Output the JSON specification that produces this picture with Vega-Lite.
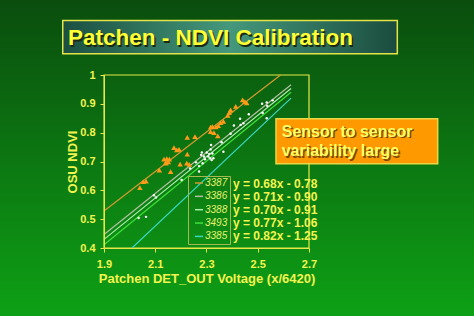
{
  "$schema": "https://vega.github.io/schema/vega-lite/v6.json",
  "width": 205,
  "height": 173,
  "autosize": "none",
  "padding": {"left": 104, "top": 75, "right": 165, "bottom": 68},
  "background": "#0b7a12",
  "config": {
    "font": "Liberation Sans",
    "view": {"stroke": null},
    "axis": {
      "grid": false,
      "labelOverlap": false,
      "labelFlush": false,
      "domainColor": "#e8e84a",
      "tickColor": "#e8e84a",
      "tickSize": 4,
      "labelColor": "#f4f450",
      "labelFont": "Liberation Sans",
      "labelFontWeight": "bold",
      "labelFontSize": 11,
      "titleColor": "#f4f450",
      "titleFont": "Liberation Sans",
      "titleFontWeight": "bold",
      "titleFontSize": 13
    },
    "axisY": {"labelOverlap": false, "tickCount": 7}
  },
  "datasets": {
    "pts": [
      {"x": 2.040, "y": 0.609, "s": "3387"}, {"x": 2.053, "y": 0.630, "s": "3387"}, {"x": 2.064, "y": 0.632, "s": "3387"},
      {"x": 2.116, "y": 0.670, "s": "3387"}, {"x": 2.134, "y": 0.708, "s": "3387"}, {"x": 2.141, "y": 0.697, "s": "3387"},
      {"x": 2.145, "y": 0.710, "s": "3387"}, {"x": 2.151, "y": 0.699, "s": "3387"}, {"x": 2.155, "y": 0.708, "s": "3387"},
      {"x": 2.142, "y": 0.694, "s": "3387"}, {"x": 2.160, "y": 0.665, "s": "3387"}, {"x": 2.173, "y": 0.748, "s": "3387"},
      {"x": 2.184, "y": 0.740, "s": "3387"}, {"x": 2.193, "y": 0.742, "s": "3387"}, {"x": 2.197, "y": 0.691, "s": "3387"},
      {"x": 2.223, "y": 0.694, "s": "3387"}, {"x": 2.225, "y": 0.784, "s": "3387"}, {"x": 2.225, "y": 0.726, "s": "3387"},
      {"x": 2.233, "y": 0.690, "s": "3387"}, {"x": 2.255, "y": 0.786, "s": "3387"}, {"x": 2.316, "y": 0.819, "s": "3387"},
      {"x": 2.323, "y": 0.821, "s": "3387"}, {"x": 2.329, "y": 0.800, "s": "3387"}, {"x": 2.316, "y": 0.804, "s": "3387"},
      {"x": 2.344, "y": 0.789, "s": "3387"}, {"x": 2.337, "y": 0.820, "s": "3387"}, {"x": 2.346, "y": 0.824, "s": "3387"},
      {"x": 2.355, "y": 0.835, "s": "3387"}, {"x": 2.366, "y": 0.839, "s": "3387"}, {"x": 2.383, "y": 0.860, "s": "3387"},
      {"x": 2.389, "y": 0.870, "s": "3387"}, {"x": 2.394, "y": 0.879, "s": "3387"}, {"x": 2.414, "y": 0.891, "s": "3387"},
      {"x": 2.441, "y": 0.914, "s": "3387"}, {"x": 2.450, "y": 0.908, "s": "3387"}, {"x": 2.457, "y": 0.903, "s": "3387"},
      {"x": 2.035, "y": 0.504, "s": "other"}, {"x": 2.064, "y": 0.508, "s": "other"}, {"x": 2.095, "y": 0.583, "s": "other"},
      {"x": 2.103, "y": 0.575, "s": "other"}, {"x": 2.203, "y": 0.636, "s": "other"}, {"x": 2.236, "y": 0.676, "s": "other"},
      {"x": 2.259, "y": 0.697, "s": "other"}, {"x": 2.271, "y": 0.684, "s": "other"}, {"x": 2.271, "y": 0.665, "s": "other"},
      {"x": 2.279, "y": 0.723, "s": "other"}, {"x": 2.282, "y": 0.731, "s": "other"}, {"x": 2.285, "y": 0.694, "s": "other"},
      {"x": 2.290, "y": 0.717, "s": "other"}, {"x": 2.294, "y": 0.708, "s": "other"}, {"x": 2.301, "y": 0.731, "s": "other"},
      {"x": 2.307, "y": 0.717, "s": "other"}, {"x": 2.311, "y": 0.726, "s": "other"}, {"x": 2.314, "y": 0.711, "s": "other"},
      {"x": 2.316, "y": 0.742, "s": "other"}, {"x": 2.318, "y": 0.757, "s": "other"}, {"x": 2.320, "y": 0.705, "s": "other"},
      {"x": 2.323, "y": 0.728, "s": "other"}, {"x": 2.327, "y": 0.711, "s": "other"}, {"x": 2.359, "y": 0.767, "s": "other"},
      {"x": 2.366, "y": 0.734, "s": "other"}, {"x": 2.394, "y": 0.796, "s": "other"}, {"x": 2.407, "y": 0.825, "s": "other"},
      {"x": 2.431, "y": 0.848, "s": "other"}, {"x": 2.433, "y": 0.827, "s": "other"}, {"x": 2.444, "y": 0.833, "s": "other"},
      {"x": 2.465, "y": 0.864, "s": "other"}, {"x": 2.517, "y": 0.900, "s": "other"}, {"x": 2.519, "y": 0.868, "s": "other"},
      {"x": 2.535, "y": 0.905, "s": "other"}, {"x": 2.537, "y": 0.893, "s": "other"}, {"x": 2.558, "y": 0.912, "s": "other"},
      {"x": 2.535, "y": 0.850, "s": "other"}
    ],
    "lines": [
      {"sensor": "3387", "x": 1.9, "y": 0.528}, {"sensor": "3387", "x": 2.589, "y": 1.0},
      {"sensor": "3386", "x": 1.9, "y": 0.447}, {"sensor": "3386", "x": 2.63, "y": 0.966},
      {"sensor": "3388", "x": 1.9, "y": 0.430}, {"sensor": "3388", "x": 2.63, "y": 0.953},
      {"sensor": "3493", "x": 1.9, "y": 0.411}, {"sensor": "3493", "x": 2.63, "y": 0.940},
      {"sensor": "3385", "x": 2.009, "y": 0.4}, {"sensor": "3385", "x": 2.63, "y": 0.920}
    ],
    "eqs": [
      {"sensor": "3387", "eq": "y = 0.68x - 0.78"},
      {"sensor": "3386", "eq": "y = 0.71x - 0.90"},
      {"sensor": "3388", "eq": "y = 0.70x - 0.91"},
      {"sensor": "3493", "eq": "y = 0.77x - 1.06"},
      {"sensor": "3385", "eq": "y = 0.82x - 1.25"}
    ]
  },
  "layer": [
    {
      "data": {"values": [{}]},
      "mark": {"type": "rect", "clip": false, "color": {"gradient": "linear", "x1": 0, "y1": 0, "x2": 0, "y2": 1, "stops": [{"offset": 0, "color": "#0a4a0d"}, {"offset": 1, "color": "#0ea516"}]}},
      "encoding": {
        "x": {"datum": 1.45, "type": "quantitative", "scale": {"domain": [1.9, 2.7], "nice": false, "zero": false}},
        "x2": {"datum": 3.4},
        "y": {"datum": 1.3, "type": "quantitative", "scale": {"domain": [0.4, 1.0], "nice": false, "zero": false}},
        "y2": {"datum": 0.1}
      }
    },
    {
      "data": {"values": [{}]},
      "mark": {"type": "rect", "clip": false, "filled": false, "stroke": "#e8e84a", "strokeWidth": 1.2},
      "encoding": {"x": {"datum": 1.9, "type": "quantitative"}, "x2": {"datum": 2.7}, "y": {"datum": 0.4, "type": "quantitative"}, "y2": {"datum": 1.0}}
    },
    {
      "data": {"values": [{}]},
      "mark": {"type": "rect", "clip": false, "stroke": "#e4e44a", "strokeWidth": 1.5,
               "fill": {"gradient": "linear", "x1": 0, "y1": 0, "x2": 1, "y2": 0, "stops": [{"offset": 0, "color": "#1b5040"}, {"offset": 0.5, "color": "#45987c"}, {"offset": 1, "color": "#1a4c3e"}]}},
      "encoding": {"x": {"datum": 1.739, "type": "quantitative"}, "x2": {"datum": 3.0446}, "y": {"datum": 1.189, "type": "quantitative"}, "y2": {"datum": 1.0739}}
    },
    {
      "data": {"values": [{}]},
      "mark": {"type": "text", "clip": false, "text": "Patchen - NDVI Calibration", "align": "left", "baseline": "alphabetic", "font": "Liberation Sans", "fontWeight": "bold", "fontSize": 22.5, "fill": "#1a2a12", "dx": 1.5, "dy": 1.5},
      "encoding": {"x": {"datum": 1.7595, "type": "quantitative"}, "y": {"datum": 1.1027, "type": "quantitative"}}
    },
    {
      "data": {"values": [{}]},
      "mark": {"type": "text", "clip": false, "text": "Patchen - NDVI Calibration", "align": "left", "baseline": "alphabetic", "font": "Liberation Sans", "fontWeight": "bold", "fontSize": 22.5, "fill": "#ffff33"},
      "encoding": {"x": {"datum": 1.7595, "type": "quantitative"}, "y": {"datum": 1.1027, "type": "quantitative"}}
    },
    {
      "data": {"name": "lines"},
      "mark": {"type": "line", "strokeWidth": 1.2},
      "encoding": {
        "x": {"field": "x", "type": "quantitative",
              "axis": {"zindex": 2, "values": [1.9, 2.1, 2.3, 2.5, 2.7], "format": ".1f", "labelOverlap": false, "labelPadding": 6, "titlePadding": 3, "title": "Patchen DET_OUT Voltage (x/6420)"}},
        "y": {"field": "y", "type": "quantitative",
              "axis": {"zindex": 2, "values": [0.4, 0.5, 0.6, 0.7, 0.8, 0.9, 1.0], "tickCount": 7, "labelExpr": "datum.value == 1 ? '1' : format(datum.value, '.1f')", "labelOverlap": false, "labelBound": false, "labelPadding": 5, "titlePadding": 0, "title": "OSU NDVI"}},
        "detail": {"field": "sensor"},
        "color": {"field": "sensor", "type": "nominal",
          "scale": {"domain": ["3387", "3386", "3388", "3493", "3385"], "range": ["#d49a30", "#b4c0a4", "#a8f0a8", "#3ee03a", "#38d8c0"]},
          "legend": {"orient": "none", "legendX": 84, "legendY": 101, "title": null, "symbolType": "stroke", "symbolSize": 64, "symbolStrokeWidth": 1.5,
                     "labelFont": "Liberation Sans", "labelFontStyle": "italic", "labelFontSize": 10, "labelColor": "#e6f070",
                     "strokeColor": "#a8b850", "padding": 2, "rowPadding": 3.35, "labelOffset": 1, "symbolOffset": 4}}
      }
    },
    {
      "data": {"name": "pts"},
      "transform": [{"filter": "datum.s == 'other'"}],
      "mark": {"type": "circle", "size": 6, "color": "#ffffff", "opacity": 1},
      "encoding": {"x": {"field": "x", "type": "quantitative"}, "y": {"field": "y", "type": "quantitative"}}
    },
    {
      "data": {"name": "pts"},
      "transform": [{"filter": "datum.s == '3387'"}],
      "mark": {"type": "point", "shape": "triangle-up", "size": 30, "filled": true, "color": "#ff9a1a", "opacity": 1},
      "encoding": {"x": {"field": "x", "type": "quantitative"}, "y": {"field": "y", "type": "quantitative"}}
    },
    {
      "data": {"name": "eqs"},
      "mark": {"type": "point", "opacity": 0},
      "encoding": {
        "shape": {"field": "eq", "type": "nominal", "sort": null,
          "legend": {"orient": "none", "legendX": 115, "legendY": 101, "title": null, "symbolSize": 1, "symbolOpacity": 0, "symbolStrokeWidth": 0,
                     "labelFont": "Liberation Sans", "labelFontWeight": "bold", "labelFontSize": 12, "labelColor": "#f4f450",
                     "padding": 2, "rowPadding": 1.1, "labelOffset": 0}}
      }
    },
    {
      "data": {"values": [{}]},
      "mark": {"type": "rect", "clip": false, "fill": "#ff9900", "stroke": "#e8d848", "strokeWidth": 1.5},
      "encoding": {"x": {"datum": 2.5712, "type": "quantitative"}, "x2": {"datum": 3.2022}, "y": {"datum": 0.8484, "type": "quantitative"}, "y2": {"datum": 0.6924}}
    },
    {
      "data": {"values": [{}]},
      "mark": {"type": "text", "clip": false, "text": ["Sensor to sensor", "variability large"], "lineHeight": 19.4, "align": "left", "baseline": "alphabetic", "font": "Liberation Sans", "fontWeight": "bold", "fontSize": 16, "fill": "#7a4a00", "dx": 1.5, "dy": 1.5},
      "encoding": {"x": {"datum": 2.5935, "type": "quantitative"}, "y": {"datum": 0.785, "type": "quantitative"}}
    },
    {
      "data": {"values": [{}]},
      "mark": {"type": "text", "clip": false, "text": ["Sensor to sensor", "variability large"], "lineHeight": 19.4, "align": "left", "baseline": "alphabetic", "font": "Liberation Sans", "fontWeight": "bold", "fontSize": 16, "fill": "#ffff66"},
      "encoding": {"x": {"datum": 2.5935, "type": "quantitative"}, "y": {"datum": 0.785, "type": "quantitative"}}
    }
  ]
}
